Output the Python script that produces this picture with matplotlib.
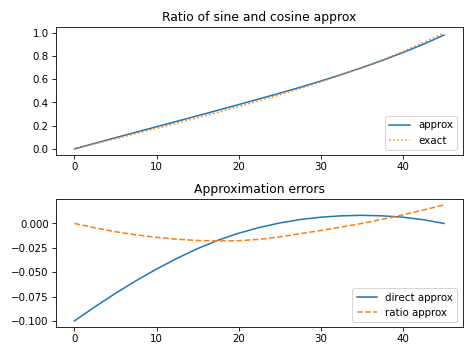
import matplotlib
matplotlib.use("Agg")
import matplotlib.pyplot as plt

degrees = [0, 2.5, 5, 7.5, 10, 12.5, 15, 17.5, 20, 22.5, 25, 27.5, 30, 32.5, 35, 37.5, 40, 42.5, 45]
exact = [0.0, 0.0437, 0.0875, 0.1317, 0.1763, 0.2217, 0.2679, 0.3153, 0.3640, 0.4142,
         0.4663, 0.5206, 0.5774, 0.6371, 0.7002, 0.7673, 0.8391, 0.9163, 1.0]
approx = [0.0, 0.0482, 0.0960, 0.1434, 0.1906, 0.2379, 0.2854, 0.3333, 0.3817, 0.4305,
          0.4801, 0.5311, 0.5846, 0.6408, 0.7002, 0.7631, 0.8303, 0.9025, 0.981]
direct_err = [-0.100, -0.0855, -0.0717, -0.0588, -0.0468, -0.0358, -0.0258, -0.0172, -0.0100, -0.0042,
              0.0005, 0.0040, 0.0064, 0.0078, 0.0083, 0.0078, 0.0064, 0.0038, 0.0000]
ratio_err = [0.0, -0.0045, -0.0085, -0.0117, -0.0143, -0.0162, -0.0175, -0.0180, -0.0177, -0.0163,
             -0.0138, -0.0105, -0.0072, -0.0037, 0.0, 0.0042, 0.0088, 0.0138, 0.019]

fig, (ax1, ax2) = plt.subplots(2, 1, figsize=(6.4, 4.8), dpi=74)

ax1.plot(degrees, approx, label="approx")
ax1.plot(degrees, exact, ":", label="exact")
ax1.set_title("Ratio of sine and cosine approx")
ax1.legend(loc="lower right")

ax2.plot(degrees, direct_err, label="direct approx")
ax2.plot(degrees, ratio_err, "--", label="ratio approx")
ax2.set_title("Approximation errors")
ax2.legend(loc="lower right")

fig.tight_layout()
fig.savefig("out.png", dpi=74)
